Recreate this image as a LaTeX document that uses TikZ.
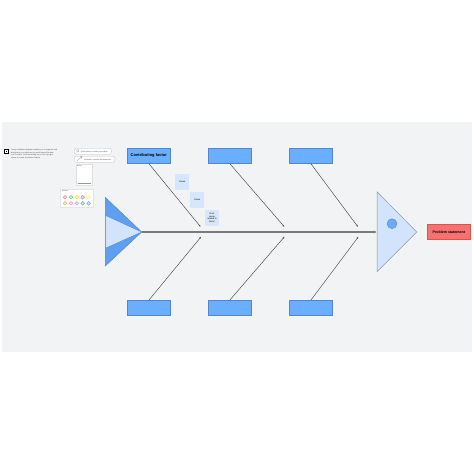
\documentclass[tikz,border=0pt]{standalone}
\usepackage{fontspec}
\setmainfont{Liberation Sans}
\usetikzlibrary{arrows.meta}
\definecolor{bgc}{HTML}{F2F3F5}
\definecolor{boxblue}{HTML}{6AAEFF}
\definecolor{boxedge}{HTML}{4F86CC}
\definecolor{darkblue}{HTML}{5E9FF2}
\definecolor{lightblue}{HTML}{D2E4FB}
\definecolor{headedge}{HTML}{8A9BB3}
\definecolor{probred}{HTML}{F87171}
\definecolor{probedge}{HTML}{D9534F}
\definecolor{notec}{HTML}{D7E7FB}
\definecolor{spinec}{HTML}{7A7A7A}
\definecolor{linec}{HTML}{444444}
\tikzset{
  factor/.style={draw=boxedge, line width=0.5pt, fill=boxblue, minimum width=42.3pt, minimum height=15pt, inner sep=0pt, font=\bfseries\fontsize{4}{5}\selectfont},
  problem/.style={draw=probedge, line width=0.5pt, fill=probred, minimum width=42.3pt, minimum height=15pt, inner sep=0pt, font=\bfseries\fontsize{3.6}{4.5}\selectfont},
  cause/.style={fill=notec, minimum width=14.3pt, minimum height=15.6pt, inner sep=0.5pt, align=center, font=\fontsize{2.2}{2.7}\selectfont},
  bone/.style={draw=linec, line width=0.45pt, -{Stealth[length=2pt,width=1.6pt]}},
  tinytext/.style={font=\fontsize{1.9}{2.6}\selectfont, text=black!70, inner sep=0pt, anchor=north west, align=left},
  btn/.style={draw=black!25, line width=0.3pt, fill=white, rounded corners=1.2pt, inner sep=0pt, anchor=west, minimum height=6pt},
  dot/.style={circle, minimum size=3.6pt, inner sep=0pt, line width=0.5pt}
}
\begin{document}
\begin{tikzpicture}[x=1pt,y=-1pt]
\useasboundingbox (0,0) rectangle (474,474);
\fill[white] (0,0) rectangle (474,474);
\fill[bgc] (2,122) rectangle (472,352);

% tail
\draw[draw=boxedge, line width=0.4pt, fill=darkblue] (105.3,197.3) -- (141.7,232) -- (105.3,266) -- cycle;
\draw[draw=boxedge, line width=0.4pt, fill=lightblue] (105.3,215.3) -- (141.7,232) -- (105.3,248.3) -- cycle;
\coordinate (tailtip) at (141.7,232);

% head
\draw[draw=headedge, line width=0.5pt, fill=lightblue] (377,191.7) -- (416.7,232) -- (377,271.7) -- cycle;
\node[circle, fill=darkblue!90, draw=boxedge, line width=0.3pt, minimum size=10pt, inner sep=0pt] (eye) at (392,223.7) {};
\coordinate (headback) at (376.5,232);

% spine
\draw[spinec, line width=1.3pt, -{Stealth[length=2.5pt,width=2.5pt]}] (tailtip) -- (headback);

% problem statement
\node[problem] (prob) at (448.8,231.8) {Problem statement};

% factor boxes
\node[factor] (t1) at (148.8,155.8) {Contributing factor};
\node[factor] (t2) at (229.7,155.8) {};
\node[factor] (t3) at (310.8,155.8) {};
\node[factor] (b1) at (148.8,308) {};
\node[factor] (b2) at (229.7,308) {};
\node[factor] (b3) at (310.8,308) {};

% bone ends
\coordinate (e1) at (200.5,226.7);
\coordinate (e2) at (284.3,226.7);
\coordinate (e3) at (357.8,226.7);
\coordinate (f1) at (201,236.9);
\coordinate (f2) at (284.3,236.9);
\coordinate (f3) at (358.3,236.9);

\draw[bone] (t1.south) -- (e1);
\draw[bone] (t2.south) -- (e2);
\draw[bone] (t3.south) -- (e3);
\draw[bone] (b1.north) -- (f1);
\draw[bone] (b2.north) -- (f2);
\draw[bone] (b3.north) -- (f3);

% cause notes
\node[cause] (c1) at (182.2,182.2) {Cause};
\node[cause] (c2) at (197.2,200) {Cause};
\node[cause] (c3) at (212,217.8) {Root\\cause\\related to\\factor};

% left instruction panel
\node[fill=black, minimum size=5.3pt, inner sep=0pt] (icon) at (6.5,151.6) {};
\node[draw=white, line width=0.25pt, minimum size=2pt, inner sep=0pt] (iconin) at (6.5,151.6) {};
\node[tinytext] (intro) at (11,149) {Using a fishbone diagram enables you to organize and\\brainstorm your ideas as you work toward the best\\root Problem. Find the tooling icon in the top right\\corner to create a fishbone branch.};

% buttons
\node[btn, minimum width=36.7pt] (btn1) at (74.3,151.3) {};
\node[tinytext, anchor=west] (btn1t) at (76,151.3) {$\circ$\ \ Quick action: cluster your ideas};
\node[btn, minimum width=40.4pt] (btn2) at (74.3,159.2) {};
\node[tinytext, anchor=west] (btn2t) at (76,159.2) {$\nearrow$\ \ Visualize: connect the elements};

% notes card
\node[draw=black!12, line width=0.3pt, fill=white, minimum width=16.6pt, minimum height=21pt, inner sep=0pt, anchor=north west] (notes) at (75.7,164) {};
\node[tinytext, font=\fontsize{1.7}{2}\selectfont] (notest) at (77,165.5) {Notes};
\draw[black!40, line width=0.3pt] (77.5,183) -- (90.5,183);

% palette card
\node[draw=black!10, line width=0.3pt, fill=white, minimum width=33pt, minimum height=18pt, inner sep=0pt, anchor=north west] (pal) at (60.3,188.7) {};
\node[tinytext, font=\fontsize{1.7}{2}\selectfont] (palt) at (62,190.2) {Stickers};
\node[dot, draw=red!50, fill=red!12] (d1) at (65,197.3) {};
\node[dot, draw=green!60!black!60, fill=green!15] (d2) at (71,197.3) {};
\node[dot, draw=yellow!80!orange, fill=yellow!20] (d3) at (77,197.3) {};
\node[dot, draw=violet!50, fill=violet!12] (d4) at (82.7,197.3) {};
\node[dot, draw=yellow!60, fill=yellow!10] (d5) at (88.7,197.3) {};
\node[dot, draw=orange!70, fill=orange!15] (d6) at (65,203.3) {};
\node[dot, draw=magenta!45, fill=magenta!10] (d7) at (71,203.3) {};
\node[dot, draw=violet!40, fill=violet!10] (d8) at (77,203.3) {};
\node[dot, draw=teal!60, fill=teal!15] (d9) at (82.7,203.3) {};
\node[dot, draw=cyan!60!blue!60, fill=cyan!15] (d10) at (88.7,203.3) {};
\end{tikzpicture}
\end{document}
